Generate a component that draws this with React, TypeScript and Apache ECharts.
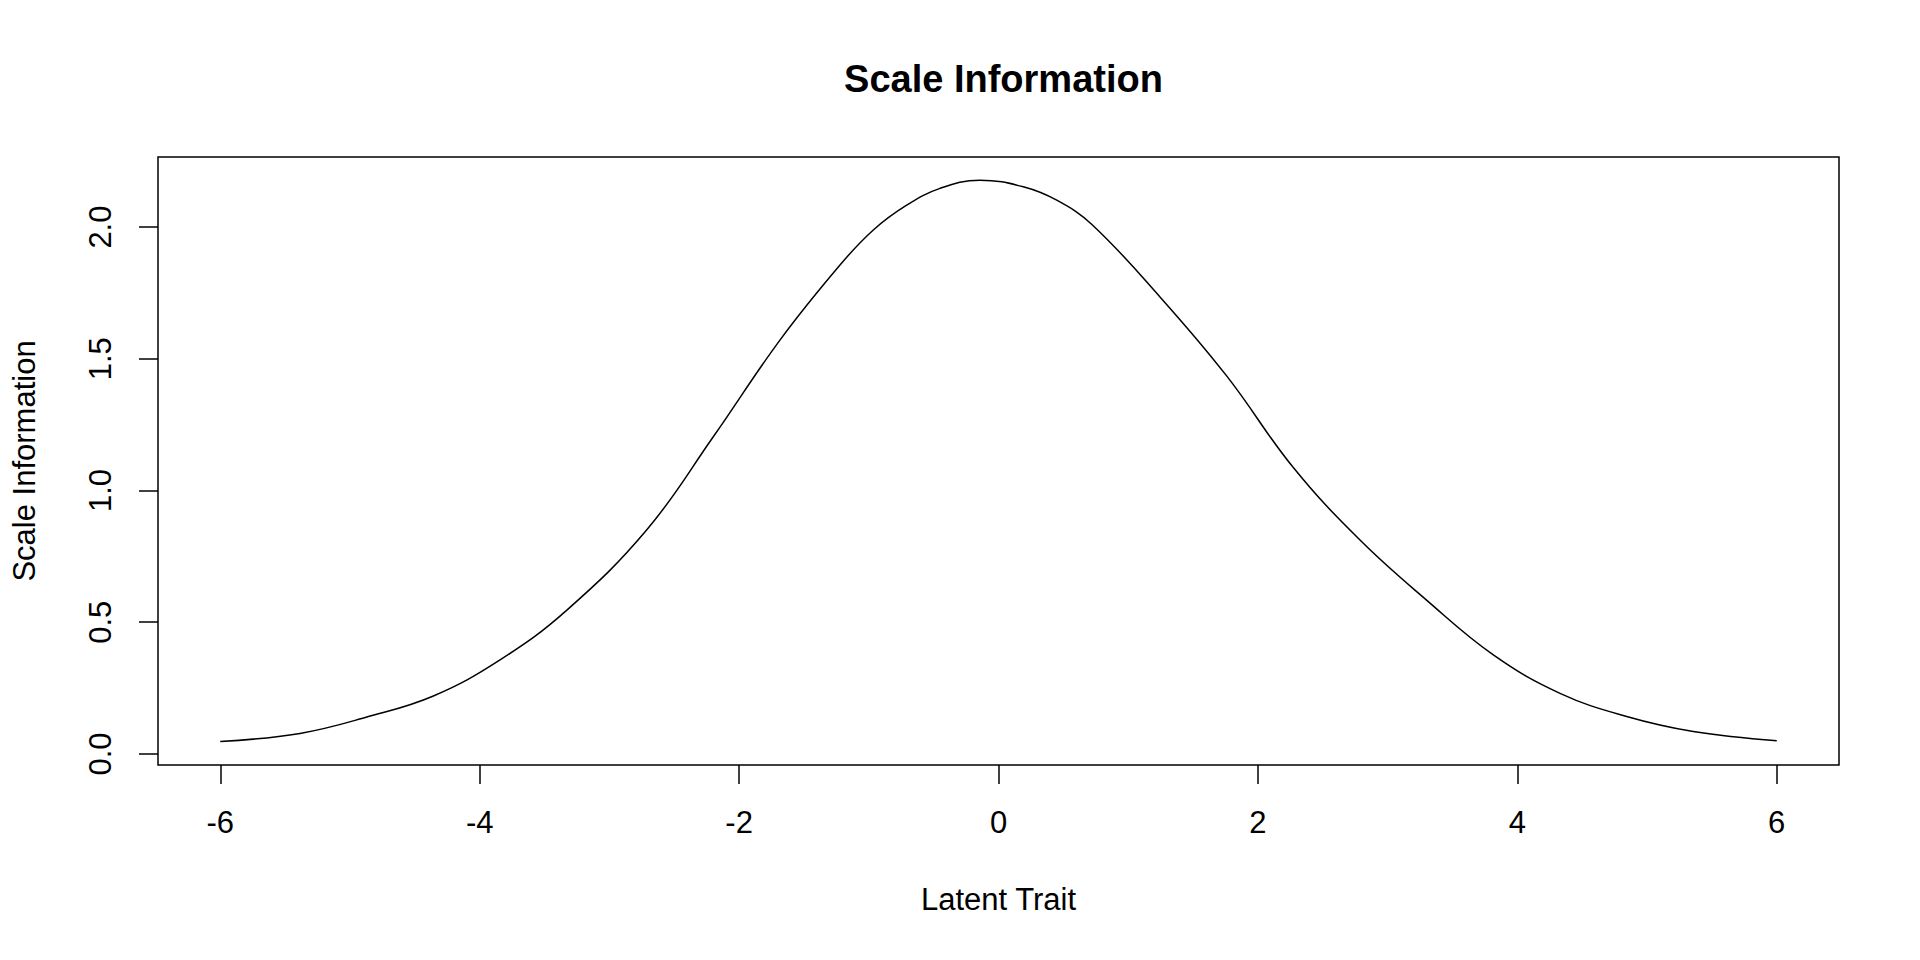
import React, { useEffect, useRef } from "react";
import * as echarts from "echarts";

const latentTrait = [-6.0, -5.385, -4.87, -4.357, -3.843, -3.33, -2.713, -2.199, -1.685, -1.222, -0.965, -0.708, -0.451, -0.143, 0.191, 0.449, 0.72, 1.245, 1.759, 2.273, 2.787, 3.3, 3.815, 4.329, 4.843, 5.357, 6.0];
const scaleInfo = [0.047, 0.078, 0.14, 0.22, 0.357, 0.545, 0.85, 1.204, 1.571, 1.856, 1.989, 2.083, 2.147, 2.178, 2.153, 2.102, 2.01, 1.735, 1.435, 1.087, 0.812, 0.584, 0.376, 0.23, 0.142, 0.085, 0.05];
const xTicks = [-6, -4, -2, 0, 2, 4, 6];
const yTicks = [0, 0.5, 1, 1.5, 2];

const FONT = "'Liberation Sans', Arial, Helvetica, sans-serif";

export default function App() {
  const ref = useRef<HTMLDivElement>(null);
  useEffect(() => {
    document.body.style.margin = "0";
    const chart = echarts.init(ref.current!, null, { renderer: "svg" });
    const data = latentTrait.map((x, i) => [x, scaleInfo[i]]);
    chart.setOption({
      animation: false,
      backgroundColor: "#fff",
      title: {
        text: "Scale Information",
        left: 998.5,
        top: 55,
        textAlign: "center",
        textStyle: { fontFamily: FONT, fontSize: 38, fontWeight: "bold", color: "#000" },
      },
      grid: {
        left: 158,
        right: 81,
        top: 157,
        bottom: 195,
        show: true,
        borderColor: "#000",
        borderWidth: 1.5,
        backgroundColor: "transparent",
      },
      xAxis: {
        type: "value",
        min: -6.48,
        max: 6.48,
        splitLine: { show: false },
        axisLine: { show: false, onZero: false },
        axisTick: {
          show: true,
          length: 19,
          customValues: xTicks,
          lineStyle: { color: "#000", width: 1.5 },
        },
        axisLabel: {
          customValues: xTicks,
          margin: 42,
          fontFamily: FONT,
          fontSize: 31,
          color: "#000",
          formatter: (v: number) => String(v),
        },
      },
      yAxis: {
        type: "value",
        min: -0.042,
        max: 2.266,
        splitLine: { show: false },
        axisLine: { show: false, onZero: false },
        axisTick: {
          show: true,
          length: 19,
          customValues: yTicks,
          lineStyle: { color: "#000", width: 1.5 },
        },
        axisLabel: {
          customValues: yTicks,
          rotate: 90,
          margin: 42,
          fontFamily: FONT,
          fontSize: 31,
          color: "#000",
          formatter: (v: number) => v.toFixed(1),
        },
      },
      graphic: [
        {
          type: "text",
          x: 998.5,
          y: 899,
          style: {
            text: "Latent Trait",
            fontFamily: FONT,
            fontSize: 31,
            fill: "#000",
            textAlign: "center",
            textVerticalAlign: "middle",
          },
        },
        {
          type: "text",
          x: 24.5,
          y: 461,
          rotation: Math.PI / 2,
          style: {
            text: "Scale Information",
            fontFamily: FONT,
            fontSize: 31,
            fill: "#000",
            textAlign: "center",
            textVerticalAlign: "middle",
          },
        },
      ],
      series: [
        {
          type: "line",
          data,
          smooth: 0.4,
          showSymbol: false,
          lineStyle: { color: "#000", width: 1.5 },
          itemStyle: { color: "#000" },
        },
      ],
    });
    return () => chart.dispose();
  }, []);
  return <div ref={ref} style={{ width: 1920, height: 960 }} />;
}
